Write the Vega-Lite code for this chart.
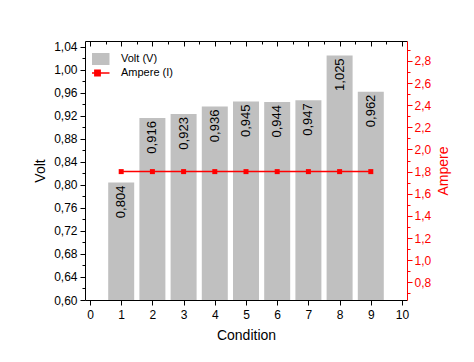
{
  "$schema": "https://vega.github.io/schema/vega-lite/v6.json",
  "width": 322,
  "height": 259,
  "autosize": "none",
  "padding": {"left": 85, "top": 41, "right": 67, "bottom": 62},
  "config": {
    "locale": {"number": {"decimal": ",", "thousands": ".", "grouping": [3], "currency": ["", ""]}},
    "view": {"stroke": null},
    "font": "Liberation Sans",
    "axis": {
      "labelFont": "Liberation Sans", "titleFont": "Liberation Sans",
      "labelFontSize": 12, "titleFontSize": 14, "titleFontWeight": "normal",
      "domainColor": "black", "tickColor": "black", "labelColor": "black", "titleColor": "black",
      "grid": false, "domainWidth": 1, "tickWidth": 1, "tickCount": 200
    }
  },
  "data": {"values": [
    {"condition": 1, "volt": 0.804, "ampere": 1.8},
    {"condition": 2, "volt": 0.916, "ampere": 1.8},
    {"condition": 3, "volt": 0.923, "ampere": 1.8},
    {"condition": 4, "volt": 0.936, "ampere": 1.8},
    {"condition": 5, "volt": 0.945, "ampere": 1.8},
    {"condition": 6, "volt": 0.944, "ampere": 1.8},
    {"condition": 7, "volt": 0.947, "ampere": 1.8},
    {"condition": 8, "volt": 1.025, "ampere": 1.8},
    {"condition": 9, "volt": 0.962, "ampere": 1.8}
  ]},
  "layer": [
    {
      "layer": [
        {
          "mark": {"type": "bar", "size": 26},
          "encoding": {
            "x": {
              "field": "condition", "type": "quantitative",
              "scale": {"domain": [0, 10], "nice": false, "zero": false},
              "axis": {
                "orient": "bottom", "title": "Condition", "tickCount": 200,
                "values": [0, 0.5, 1, 1.5, 2, 2.5, 3, 3.5, 4, 4.5, 5, 5.5, 6, 6.5, 7, 7.5, 8, 8.5, 9, 9.5, 10],
                "format": "d",
                "labelExpr": "datum.value % 1 == 0 ? datum.label : ''",
                "tickSize": {"condition": {"test": "datum.value % 1 != 0", "value": 3}, "value": 5},
                "labelPadding": 4, "titlePadding": 8, "labelFlush": false, "labelOverlap": false
              }
            },
            "y": {
              "field": "volt", "type": "quantitative",
              "scale": {"domain": [0.6, 1.05], "nice": false, "zero": false},
              "axis": {
                "orient": "left", "title": "Volt", "tickCount": 200,
                "values": [0.6, 0.62, 0.64, 0.66, 0.68, 0.7, 0.72, 0.74, 0.76, 0.78, 0.8, 0.82, 0.84, 0.86, 0.88, 0.9, 0.92, 0.94, 0.96, 0.98, 1.0, 1.02, 1.04],
                "format": ".2f",
                "labelExpr": "round(datum.value*100) % 4 == 0 ? datum.label : ''",
                "tickSize": {"condition": {"test": "round(datum.value*100) % 4 != 0", "value": 3}, "value": 5},
                "labelPadding": 3, "titlePadding": 6, "labelFlush": false, "labelOverlap": false
              }
            },
            "y2": {"datum": 0.6},
            "color": {
              "datum": "Volt (V)",
              "scale": {"domain": ["Volt (V)", "Ampere (I)"], "range": ["#c0c0c0", "#ff0000"]},
              "legend": {
                "orient": "none", "legendX": 7, "legendY": 12, "title": null,
                "symbolSize": 576, "labelFontSize": 11, "labelFont": "Liberation Sans",
                "clipHeight": 12, "labelOffset": 18, "rowPadding": 2, "padding": 0,
                "encode": {"symbols": {"update": {
                  "shape": {"signal": "datum.value === 'Volt (V)' ? 'M-1,-0.5H1V0.5H-1Z' : 'M-1,0H1M-0.22,-0.22H0.22V0.22H-0.22Z'"},
                  "fill": {"signal": "datum.value === 'Volt (V)' ? '#c0c0c0' : '#ff0000'"},
                  "stroke": {"signal": "datum.value === 'Volt (V)' ? 'transparent' : '#ff0000'"},
                  "strokeWidth": {"signal": "datum.value === 'Volt (V)' ? 0 : 1.5"},
                  "opacity": {"value": 1}
                }}}
              }
            }
          }
        },
        {
          "mark": {"type": "text", "angle": 270, "align": "right", "baseline": "middle", "dx": -3, "fontSize": 13, "font": "Liberation Sans", "color": "black"},
          "encoding": {
            "x": {"field": "condition", "type": "quantitative"},
            "y": {"field": "volt", "type": "quantitative"},
            "text": {"field": "volt", "type": "quantitative", "format": ".3f"}
          }
        }
      ]
    },
    {
      "mark": {"type": "line", "strokeWidth": 1.5, "point": {"shape": "square", "size": 25, "filled": true}},
      "encoding": {
        "x": {
          "field": "condition", "type": "quantitative",
          "axis": {
            "orient": "top", "title": null, "labels": false, "tickCount": 200,
            "values": [0, 0.5, 1, 1.5, 2, 2.5, 3, 3.5, 4, 4.5, 5, 5.5, 6, 6.5, 7, 7.5, 8, 8.5, 9, 9.5, 10],
            "tickSize": {"condition": {"test": "datum.value % 1 != 0", "value": -3}, "value": -5}
          }
        },
        "y": {
          "field": "ampere", "type": "quantitative",
          "scale": {"domain": [0.64, 2.98], "nice": false, "zero": false},
          "axis": {
            "orient": "right", "title": "Ampere", "tickCount": 200,
            "values": [0.7, 0.8, 0.9, 1.0, 1.1, 1.2, 1.3, 1.4, 1.5, 1.6, 1.7, 1.8, 1.9, 2.0, 2.1, 2.2, 2.3, 2.4, 2.5, 2.6, 2.7, 2.8, 2.9],
            "format": ".1f",
            "labelExpr": "round(datum.value*10) % 2 == 0 ? datum.label : ''",
            "tickSize": {"condition": {"test": "round(datum.value*10) % 2 != 0", "value": 3}, "value": 5},
            "domainColor": "#ff0000", "tickColor": "#ff0000", "labelColor": "#ff0000", "titleColor": "#ff0000",
            "titleAngle": 270, "titleBaseline": "top",
            "labelPadding": 2, "titlePadding": 6, "labelFlush": false, "labelOverlap": false
          }
        },
        "color": {"datum": "Ampere (I)"}
      }
    }
  ],
  "resolve": {"scale": {"y": "independent"}, "axis": {"x": "independent"}}
}
